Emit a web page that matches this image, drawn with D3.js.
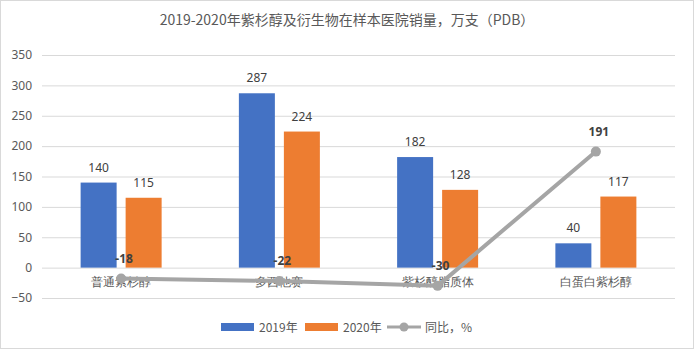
<!DOCTYPE html>
<html>
<head>
<meta charset="utf-8">
<script src="https://cdn.jsdelivr.net/npm/d3@7"></script>
<style>
  html, body { margin: 0; padding: 0; background: #fff; }
  svg { display: block; font-family: "Noto Sans CJK SC", "Noto Sans", sans-serif; }
</style>
</head>
<body>
<svg id="chart" width="694" height="352"></svg>
<script>
const categories = ['普通紫杉醇', '多西他赛', '紫杉醇脂质体', '白蛋白紫杉醇'];
const series2019 = [140, 287, 182, 40];
const series2020 = [115, 224, 128, 117];
const yoy = [-18, -22, -30, 191];
const yTicks = [-50, 0, 50, 100, 150, 200, 250, 300, 350];

const W = 694, H = 352;
const mLeft = 42, mRight = 675, mTop = 55, mBottom = 298;
const svg = d3.select('#chart');

// 外框
svg.append('rect')
  .attr('x', 0.5).attr('y', 0.5)
  .attr('width', W - 1).attr('height', H - 4)
  .attr('fill', '#fff')
  .attr('stroke', '#d9d9d9');

// 标题
svg.append('text')
  .attr('x', W / 2).attr('y', 25)
  .attr('text-anchor', 'middle')
  .attr('font-size', 14)
  .attr('fill', '#595959')
  .text('2019-2020年紫杉醇及衍生物在样本医院销量，万支（PDB）');

const x = d3.scaleBand().domain(categories).range([mLeft, mRight]);
const y = d3.scaleLinear().domain([-50, 350]).range([mBottom, mTop]);

// 网格 + y 轴
const yAxis = d3.axisLeft(y).tickValues(yTicks).tickSize(-(mRight - mLeft)).tickPadding(10);
const gy = svg.append('g')
  .attr('transform', `translate(${mLeft},0)`)
  .call(yAxis);
gy.select('.domain').remove();
gy.selectAll('line').attr('stroke', '#d9d9d9');
gy.selectAll('text').attr('font-size', 12).attr('fill', '#595959')
  .attr('font-family', '"Noto Sans", sans-serif');

// 柱子
const barW = 36, gap = 9;
const colors = ['#4472c4', '#ed7d31'];
const bars = svg.append('g');
[series2019, series2020].forEach((s, k) => {
  const off = k === 0 ? -(gap / 2 + barW) : gap / 2;
  bars.selectAll(null)
    .data(s)
    .enter()
    .append('rect')
    .attr('x', (d, i) => x(categories[i]) + x.bandwidth() / 2 + off)
    .attr('y', d => y(d))
    .attr('width', barW)
    .attr('height', d => y(0) - y(d))
    .attr('fill', colors[k]);
  bars.selectAll(null)
    .data(s)
    .enter()
    .append('text')
    .attr('x', (d, i) => x(categories[i]) + x.bandwidth() / 2 + off + barW / 2)
    .attr('y', d => y(d) - 11)
    .attr('text-anchor', 'middle')
    .attr('font-size', 12)
    .attr('fill', '#404040')
    .attr('font-family', '"Noto Sans", sans-serif')
    .text(d => d);
});

// x 轴文字
const xAxis = d3.axisBottom(x).tickSize(0).tickPadding(10);
const gx = svg.append('g')
  .attr('transform', `translate(0,${y(0)})`)
  .call(xAxis);
gx.select('.domain').remove();
gx.selectAll('text').attr('font-size', 12).attr('fill', '#595959');

// 同比折线
const cx = (d, i) => x(categories[i]) + x.bandwidth() / 2;
const line = d3.line().x(cx).y(d => y(d));
svg.append('path')
  .attr('d', line(yoy))
  .attr('fill', 'none')
  .attr('stroke', '#a5a5a5')
  .attr('stroke-width', 4)
  .attr('stroke-linejoin', 'round');
svg.append('g').selectAll('circle')
  .data(yoy)
  .enter()
  .append('circle')
  .attr('cx', cx)
  .attr('cy', d => y(d))
  .attr('r', 5)
  .attr('fill', '#a5a5a5');
svg.append('g').selectAll('text')
  .data(yoy)
  .enter()
  .append('text')
  .attr('x', (d, i) => cx(d, i) + 3)
  .attr('y', d => y(d) - 16)
  .attr('text-anchor', 'middle')
  .attr('font-size', 12)
  .attr('font-weight', 'bold')
  .attr('fill', '#404040')
  .attr('font-family', '"Noto Sans", sans-serif')
  .text(d => d);

// 图例
const lg = svg.append('g').attr('transform', 'translate(0,327)');
lg.append('rect').attr('x', 221).attr('y', -4).attr('width', 33).attr('height', 8).attr('fill', colors[0]);
lg.append('text').attr('x', 259).attr('y', 5).attr('font-size', 12).attr('fill', '#595959').text('2019年');
lg.append('rect').attr('x', 305).attr('y', -4).attr('width', 33).attr('height', 8).attr('fill', colors[1]);
lg.append('text').attr('x', 343).attr('y', 5).attr('font-size', 12).attr('fill', '#595959').text('2020年');
lg.append('line').attr('x1', 387).attr('x2', 421).attr('y1', 0).attr('y2', 0)
  .attr('stroke', '#a5a5a5').attr('stroke-width', 3);
lg.append('circle').attr('cx', 404).attr('cy', 0).attr('r', 4.5).attr('fill', '#a5a5a5');
lg.append('text').attr('x', 425).attr('y', 5).attr('font-size', 12).attr('fill', '#595959').text('同比，%');
</script>
</body>
</html>
